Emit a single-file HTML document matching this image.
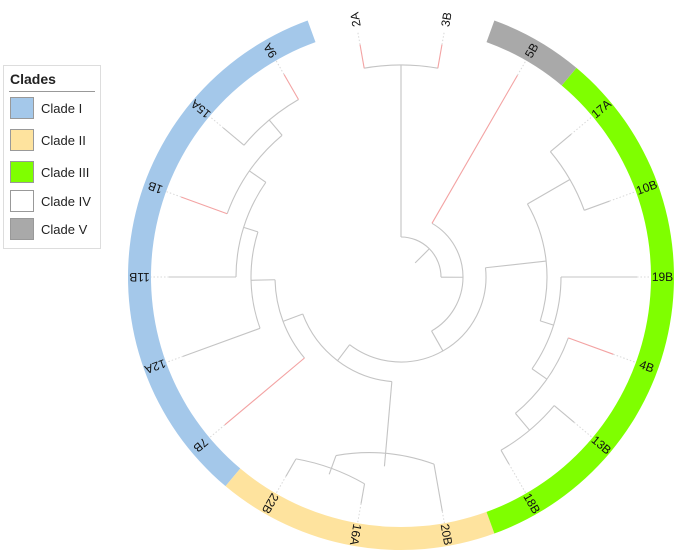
<!DOCTYPE html>
<html><head><meta charset="utf-8"><style>
html,body{margin:0;padding:0;background:#fff;}
body{width:685px;height:556px;overflow:hidden;font-family:"Liberation Sans",sans-serif;}
svg{position:absolute;left:0;top:0}
</style></head><body>
<svg id="chart" width="685" height="556"></svg>
<script>
const leafNames=['2A','3B','5B','17A','10B','19B','4B','13B','18B','20B','16A','22B','7B','12A','11B','1B','15A','9A'];
const leafAngles=[-10,10,30,50,70,90,110,130,150,170,190,210,230,250,270,290,310,330];
const leafRadius=[236,236,233,222,222,236,226,226,216,238,230,230,230,232,232,234,232,234];
const leafRed=[1,1,1,0,0,0,1,0,0,0,0,0,1,0,0,1,0,1];
const nodeIds=['N1','T','N2','N3','III','A','B','C','E','IandII','II','F','I','G','H','J','K'];
const nodeRadius=[40,212,62,85,146,195,160,178,200,105,190,210,126,150,165,185,205];
const nodeChildren=[['T','N2'],['2A','3B'],['5B','N3'],['III','IandII'],['A','B'],['17A','10B'],['19B','C'],['4B','E'],['13B','18B'],['II','I'],['F','20B'],['22B','16A'],['7B','G'],['12A','H'],['11B','J'],['1B','K'],['15A','9A']];
const cladeNames=['Clade I','Clade II','Clade III','Clade IV','Clade V'];
const cladeColors=['#a4c8ea','#fee39e','#7fff00','#ffffff','#a9a9a9'];
const cladeStart=[220,160,40,null,20];
const cladeEnd=[340,220,160,null,40];

const cx=401,cy=277,rIn=250,rOut=273;
const NS='http://www.w3.org/2000/svg';
const svg=document.getElementById('chart');
function pt(r,a){const t=a*Math.PI/180;return [cx+r*Math.sin(t),cy-r*Math.cos(t)];}
function mk(tag,attrs){const e=document.createElementNS(NS,tag);for(const k in attrs)e.setAttribute(k,attrs[k]);svg.appendChild(e);return e;}
function arcPath(r,a1,a2){const p=pt(r,a1),q=pt(r,a2);const large=(a2-a1)>180?1:0;return `M${p[0]},${p[1]} A${r},${r} 0 ${large} 1 ${q[0]},${q[1]}`;}

for(let i=0;i<cladeNames.length;i++){
  if(cladeStart[i]===null)continue;
  const a1=cladeStart[i],a2=cladeEnd[i];
  const p1=pt(rOut,a1),p2=pt(rOut,a2),p3=pt(rIn,a2),p4=pt(rIn,a1);
  const e=mk('path',{d:`M${p1[0]},${p1[1]} A${rOut},${rOut} 0 0 1 ${p2[0]},${p2[1]} L${p3[0]},${p3[1]} A${rIn},${rIn} 0 0 0 ${p4[0]},${p4[1]} Z`,fill:cladeColors[i]});
  
  
}

const angleOf={},radiusOf={};
leafNames.forEach((n,i)=>{angleOf[n]=leafAngles[i];radiusOf[n]=leafRadius[i];});
nodeIds.forEach((n,i)=>{radiusOf[n]=nodeRadius[i];});
function nodeAngle(id){
  if(id in angleOf)return angleOf[id];
  const ch=nodeChildren[nodeIds.indexOf(id)];
  const a=(nodeAngle(ch[0])+nodeAngle(ch[ch.length-1]))/2;angleOf[id]=a;return a;
}
nodeIds.forEach(nodeAngle);
const grey='#c4c4c4',red='#f3a3a3';
function branch(id,parentR){
  const a=angleOf[id],r=radiusOf[id];
  const li=leafNames.indexOf(id);
  const p=pt(parentR,a),q=pt(r,a);
  const e=mk('line',{x1:p[0],y1:p[1],x2:q[0],y2:q[1],stroke:(li>=0&&leafRed[li])?red:grey,'stroke-width':1.1});
  
  
  if(li>=0){
    const d=pt(rIn,a);
    const dl=mk('line',{x1:q[0],y1:q[1],x2:d[0],y2:d[1],stroke:'#d8d8d8','stroke-width':1,'stroke-dasharray':'1.5,2'});
    
    
    const lp=pt((rIn+rOut)/2,a);
    const t=mk('text',{x:lp[0],y:lp[1],'font-size':12,'text-anchor':'middle','dominant-baseline':'central',fill:'#111',transform:`rotate(${a-90} ${lp[0]} ${lp[1]})`});
    t.textContent=id;
    
    
    return;
  }
  const ch=nodeChildren[nodeIds.indexOf(id)];
  const arc=mk('path',{d:arcPath(r,angleOf[ch[0]],angleOf[ch[ch.length-1]]),fill:'none',stroke:grey,'stroke-width':1.1});
  
  
  ch.forEach(c=>branch(c,r));
}
branch('N1',20);
</script>
<div style="position:absolute;left:3px;top:65px;width:96px;height:182px;border:1px solid #ddd;background:#fff;font-size:13px;color:#222;">
  <div style="font-weight:bold;font-size:14px;margin:5px 0 0 6px;">Clades</div>
  <div style="position:absolute;left:5px;top:25px;width:86px;border-top:1px solid #999"></div>
  <div style="position:absolute;left:6px;top:31px;height:22px;display:flex;align-items:center"><span style="display:inline-block;width:22px;height:20px;background:#a4c8ea;border:1px solid #999;margin-right:7px"></span>Clade I</div>
  <div style="position:absolute;left:6px;top:63px;height:22px;display:flex;align-items:center"><span style="display:inline-block;width:22px;height:20px;background:#fee39e;border:1px solid #999;margin-right:7px"></span>Clade II</div>
  <div style="position:absolute;left:6px;top:95px;height:22px;display:flex;align-items:center"><span style="display:inline-block;width:22px;height:20px;background:#7fff00;border:1px solid #999;margin-right:7px"></span>Clade III</div>
  <div style="position:absolute;left:6px;top:124px;height:22px;display:flex;align-items:center"><span style="display:inline-block;width:22px;height:20px;background:#fff;border:1px solid #999;margin-right:7px"></span>Clade IV</div>
  <div style="position:absolute;left:6px;top:152px;height:22px;display:flex;align-items:center"><span style="display:inline-block;width:22px;height:20px;background:#a9a9a9;border:1px solid #999;margin-right:7px"></span>Clade V</div>
</div>
</body></html>
